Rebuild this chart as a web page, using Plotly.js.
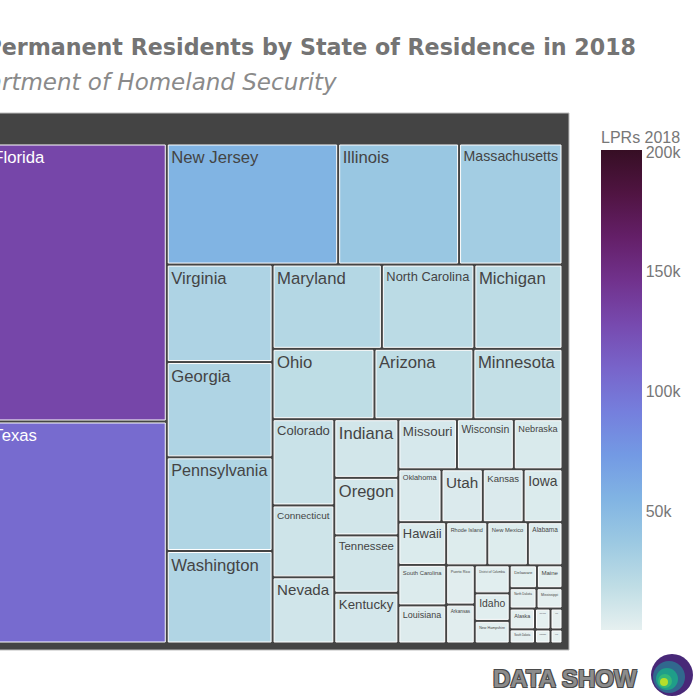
<!DOCTYPE html>
<html><head><meta charset="utf-8">
<script src="https://cdn.plot.ly/plotly-3.0.1.min.js"></script>
<style>
html,body{margin:0;padding:0;overflow:hidden;background:#fff;width:700px;height:700px;}
#chart{position:absolute;left:-300px;top:0;width:1000px;height:700px;}
</style>
</head><body><div id="chart"></div>
<script>
// ---- data ----
const rootLabel = 'United States';
const states = ['California','New York','Florida','Texas','New Jersey','Illinois','Massachusetts',
  'Virginia','Georgia','Pennsylvania','Washington','Maryland','North Carolina','Michigan',
  'Ohio','Arizona','Minnesota','Colorado','Connecticut','Nevada','Indiana','Oregon','Tennessee',
  'Kentucky','Missouri','Wisconsin','Nebraska','Oklahoma','Utah','Kansas','Iowa','Hawaii',
  'South Carolina','Louisiana','Rhode Island','New Mexico','Alabama','Puerto Rico','Arkansas',
  'District of Columbia','Idaho','New Hampshire','Delaware','Maine','North Dakota','Mississippi',
  'Alaska','South Dakota','West Virginia','Vermont','Montana','Wyoming'];
const lprs = [200897,135100,131260,104820,55045,38836,33220,
  27363,26745,26294,25960,24432,20682,19698,
  19021,18462,16634,14125,11782,10836,9966,9777,9745,
  8623,7785,7560,6472,6053,5788,5732,5450,5420,
  5138,4833,4711,4642,3968,2970,2945,
  2600,2554,2098,1650,1550,1450,1400,
  1400,950,860,665,577,446];
const colorTitle = 'LPRs 2018';
const chartTitle = 'Lawful Permanent Residents by State of Residence in 2018';
const chartSubtitle = 'U.S. Department of Homeland Security';
const brand = 'DATA SHOW';

// ---- layout helpers ----
const OFF = 300, W = 1000, H = 700;
const M = {l:29, r:131, t:113, b:50, autoexpand:false};
const PW = W - M.l - M.r, PH = H - M.t - M.b;
const px = X => (X + OFF - M.l) / PW;
const py = Y => (H - M.b - Y) / PH;

const dense = ['rgb(230,240,240)','rgb(191,221,229)','rgb(156,201,226)','rgb(129,180,227)',
  'rgb(115,154,228)','rgb(117,127,221)','rgb(120,100,202)','rgb(119,74,175)',
  'rgb(113,50,141)','rgb(100,31,104)','rgb(80,20,66)','rgb(54,14,36)'];
const colorscale = dense.map((c,i)=>[i/(dense.length-1), c]);
const FONT = 'Liberation Sans, Arial, sans-serif';

const trace = {
  type:'treemap',
  labels:[rootLabel, ...states],
  parents:['', ...states.map(()=>rootLabel)],
  values:[0, ...lprs],
  branchvalues:'remainder',
  sort:true,
  textinfo:'label',
  textposition:'top left',
  textfont:{family:FONT, size:16.7},
  pathbar:{visible:false},
  tiling:{packing:'squarify', squarifyratio:1, pad:3},
  marker:{
    colors:['#444444', ...lprs],
    colorscale:colorscale,
    showscale:true,
    pad:{t:32,l:8,r:8,b:8},
    line:{width:1, color:['#bdbdbd', ...states.map(()=>'#ffffff')]},
    colorbar:{
      title:{text:colorTitle, side:'top', font:{family:FONT, size:16, color:'#777777'}},
      tickfont:{family:FONT, size:16, color:'#777777'},
      thicknessmode:'pixels', thickness:41,
      lenmode:'pixels', len:522,
      x:px(591), xanchor:'left', xpad:10,
      y:py(118), yanchor:'top', ypad:10,
      outlinewidth:0, ticks:''
    }
  },
  hoverinfo:'label+value'
};

const circles = [
  {cx:672, cy:675, r:21, c:'#482878'},
  {cx:669, cy:677, r:16, c:'#31688e'},
  {cx:667, cy:679, r:11, c:'#1f9e89'},
  {cx:665, cy:681, r:7, c:'#35b779'},
  {cx:664, cy:682, r:4, c:'#b5de2b'}
];
const shapes = circles.map(o=>({type:'circle', xref:'paper', yref:'paper',
  x0:px(o.cx-o.r), x1:px(o.cx+o.r), y0:py(o.cy+o.r), y1:py(o.cy-o.r),
  fillcolor:o.c, line:{width:0}}));

const layout = {
  width:W, height:H,
  margin:M,
  paper_bgcolor:'#ffffff',
  font:{family:FONT, color:'#777777'},
  showlegend:false,
  shapes:shapes,
  annotations:[
    {text:'<b>'+chartTitle+'</b>', xref:'paper', yref:'paper', x:px(-107), y:py(47),
      xanchor:'left', yanchor:'middle', showarrow:false,
      font:{family:'DejaVu Sans', size:22.2, color:'#747474'}},
    {text:'<i>'+chartSubtitle+'</i>', xref:'paper', yref:'paper', x:px(-114), y:py(82),
      xanchor:'left', yanchor:'middle', showarrow:false,
      font:{family:'DejaVu Sans', size:23, color:'#8a8a8a'}},
    {text:'<b>'+brand+'</b>', xref:'paper', yref:'paper', x:px(639), y:py(678),
      xanchor:'right', yanchor:'middle', showarrow:false,
      font:{family:'Liberation Sans, Arial', size:24, color:'#8c8c8c',
        shadow:'1px 1px 0 #4a4a4a, -1px -1px 0 #4a4a4a, 1px -1px 0 #4a4a4a, -1px 1px 0 #4a4a4a'}}
  ]
};

Plotly.newPlot('chart', [trace], layout, {displayModeBar:false, staticPlot:true});
</script>
</body></html>
